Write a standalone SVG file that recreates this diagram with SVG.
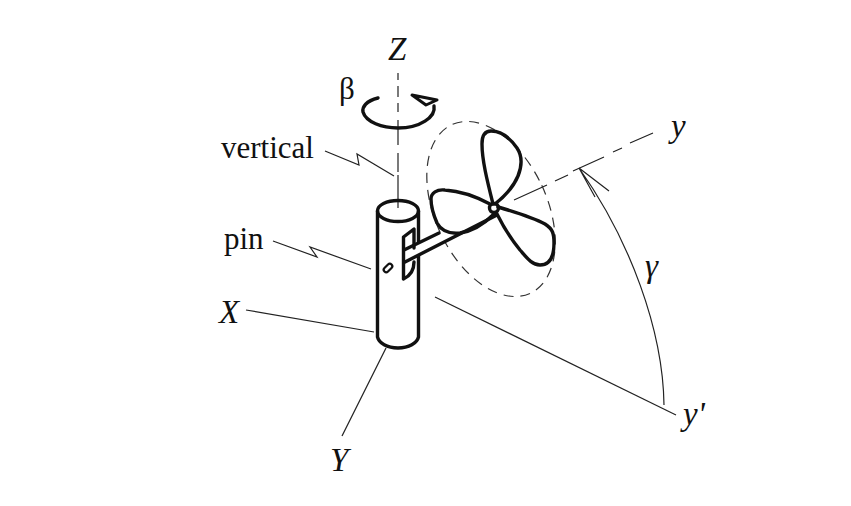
<svg xmlns="http://www.w3.org/2000/svg" width="851" height="506" viewBox="0 0 851 506">
<style>
.t{font-family:"Liberation Serif","Times New Roman",serif;font-size:31px;fill:#111}
.i{font-style:italic;font-size:33px}
.thin{fill:none;stroke:#222;stroke-width:1.2;stroke-linecap:butt;stroke-linejoin:miter}
.dash{fill:none;stroke:#333;stroke-width:1.2;stroke-dasharray:10 7}
.thick{fill:none;stroke:#111;stroke-width:3.4;stroke-linecap:round;stroke-linejoin:round}
</style>
<rect width="851" height="506" fill="#fff"/>
<g id="connectors">
<path class="thin" d="M398 73V80M398 86V97M398 103V112M398 120V145M398 153V172M398 175V208"/>
<path class="thin" d="M514 200L547 185M555 181L568 175M573 171L604 157M613 152L622 148M630 143L653 133"/>
<path class="thin" d="M325 151L359 165L357 154L394 176"/>
<path class="thin" d="M273 241L317 257L310 247L371 269"/>
<path class="thin" d="M246 310L374 332"/>
<path class="thin" d="M386 348L342 436"/>
<path class="thin" d="M435 297L676 415"/>
<path class="thin" d="M664 405C663 330 630 240 579 168M595 197L579 168L609 191"/>
</g>
<g id="rotor-plane"><ellipse class="dash" cx="491" cy="209" rx="56" ry="93" transform="rotate(-25 491 209)"/></g>
<g id="rotation-arrow">
<path class="thick" d="M378 98C366 101 362 107 363 112C366 122 382 128 398 128C420 128 436 117 434 106"/>
<path d="M412 95L437 100L426 105Z" fill="#fff" stroke="#111" stroke-width="3" stroke-linejoin="round"/>
</g>
<g id="cylinder">
<ellipse class="thick" cx="398" cy="211" rx="20.500" ry="10.500"/>
<path class="thick" d="M377.500 211V337C379 343 387 348 398 348C409 348 417 343 418.500 337V211"/>
<rect x="383" y="265.500" width="10" height="5" rx="2.500" transform="rotate(-45 388 268)" class="thick" style="stroke-width:2.200"/>
</g>
<g id="bracket">
<path d="M404 250L439 233L497 215L405 262Z" fill="#fff"/>
<path class="thick" d="M403.500 279V237L414 229V248M403.500 279C410 276 414 270 414 262"/>
<path class="thick" d="M404 250L439 233M405 262L497 215"/>
</g>
<g id="propeller">
<circle class="thick" cx="494" cy="208" r="4.500"/>
<path class="thick" d="M493 204C487 180 482 160 482 144C482 134 486 131 491 131C501 131 510 138 517 148C523 157 522 166 518 176C513 188 505 196 495 204"/>
<path class="thick" d="M498 207C515 212 532 217 545 224C553 229 554 234 554 243C554 254 551 265 540 265C532 265 527 258 520 250C510 238 503 226 497 214"/>
<path class="thick" d="M490 204C475 196 460 191 445 190C437 189 431 193 431 199C431 208 434 216 437 223C442 232 450 234 460 233C474 231 485 223 494 214"/>
</g>
<g id="labels">
<text class="t i" x="388" y="60">Z</text>
<text class="t" x="339" y="99">β</text>
<text class="t" x="221" y="158">vertical</text>
<text class="t" x="224" y="249">pin</text>
<text class="t i" x="219" y="323">X</text>
<text class="t i" x="330" y="471">Y</text>
<text class="t i" x="671" y="137">y</text>
<text class="t i" x="645" y="277">γ</text>
<text class="t i" x="683" y="425">y'</text>
</g>
</svg>
